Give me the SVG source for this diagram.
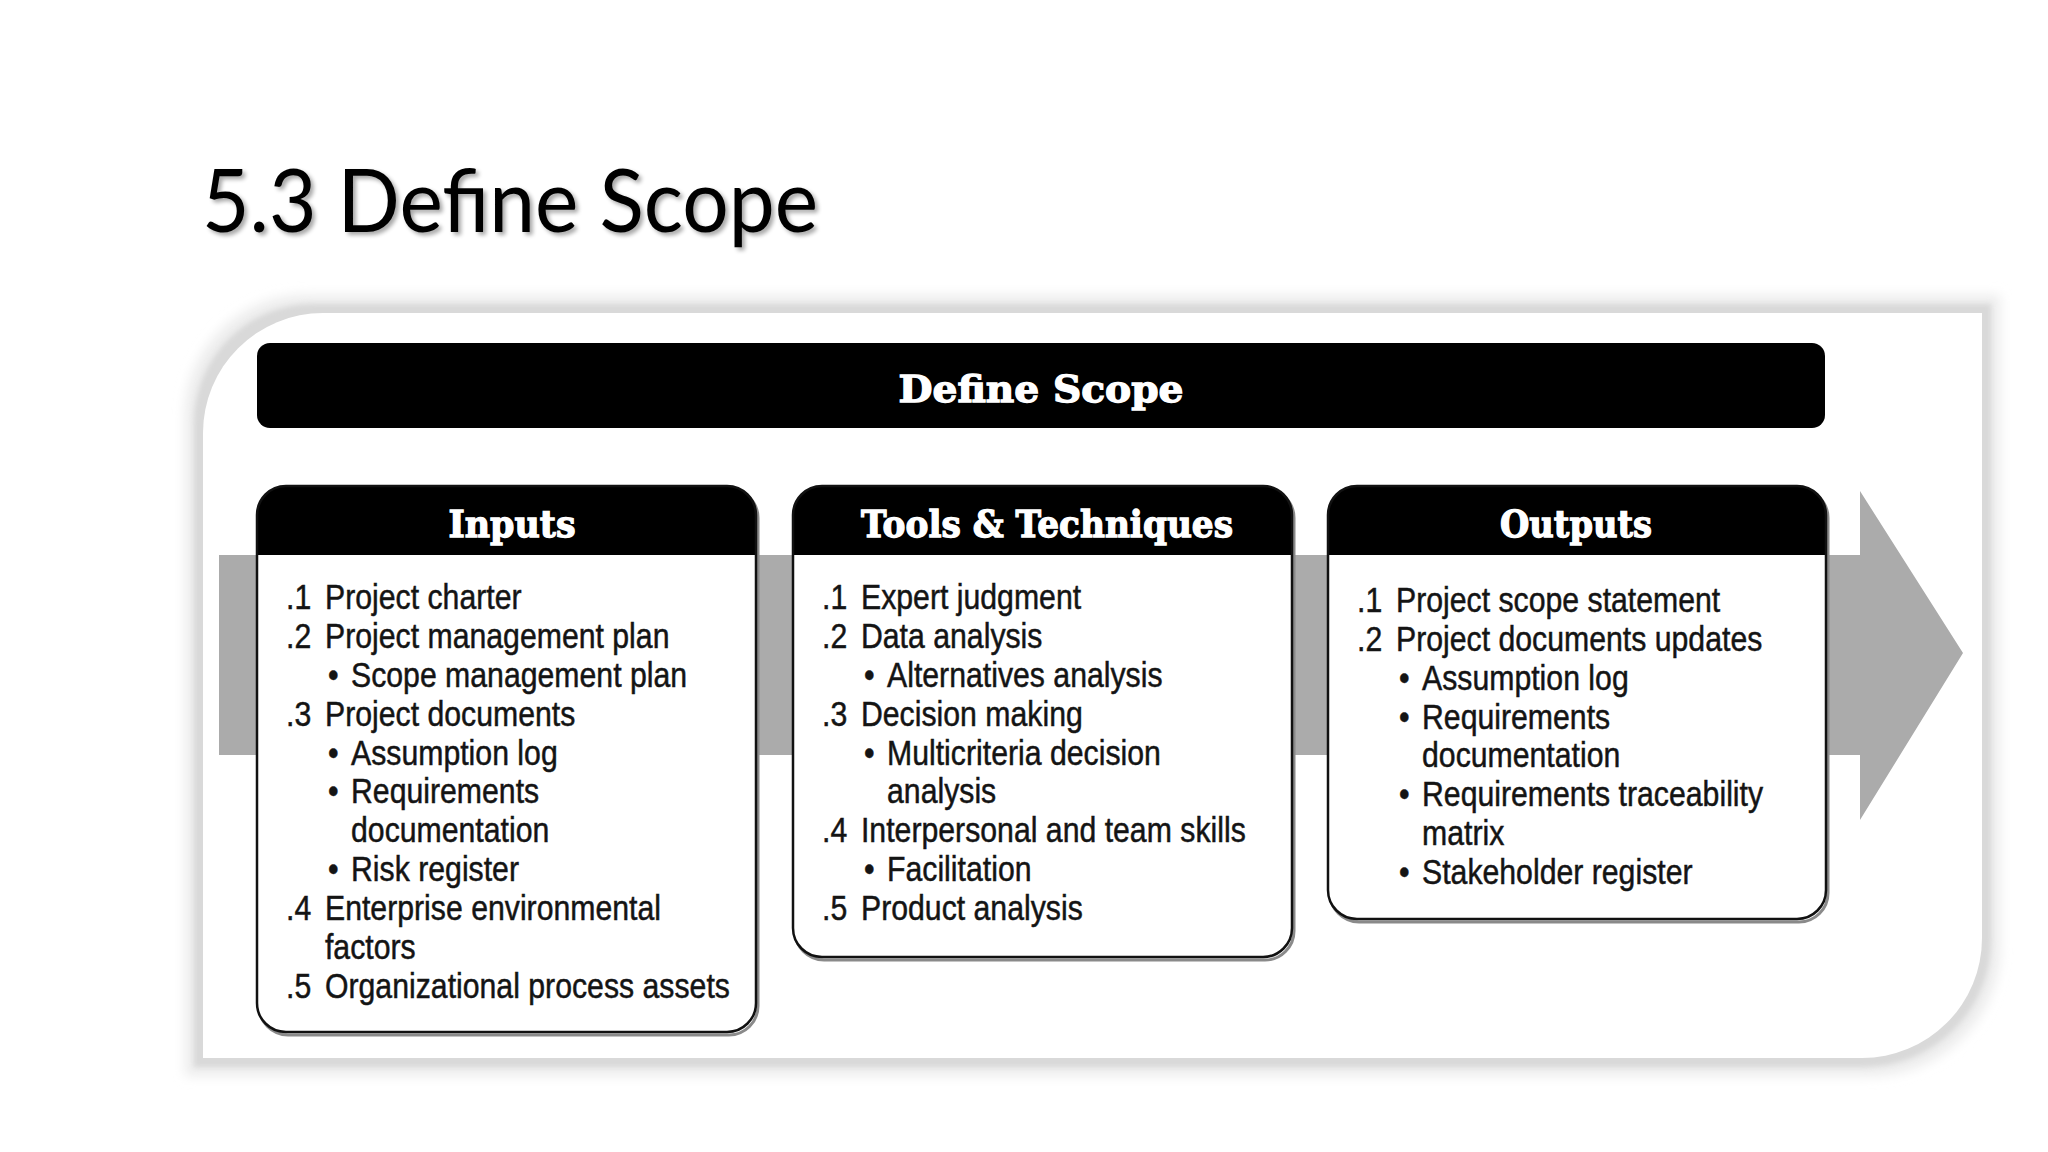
<svg xmlns="http://www.w3.org/2000/svg" width="2048" height="1152" viewBox="0 0 2048 1152">
  <defs>
    <filter id="haloBlur" x="-5%" y="-5%" width="110%" height="110%">
      <feGaussianBlur stdDeviation="6"/>
    </filter>
    <filter id="bandBlur" x="-5%" y="-5%" width="110%" height="110%">
      <feGaussianBlur stdDeviation="2.5"/>
    </filter>
    <filter id="titleShadow" x="-5%" y="-20%" width="110%" height="140%">
      <feGaussianBlur in="SourceAlpha" stdDeviation="2"/>
      <feOffset dx="3" dy="3" result="b"/>
      <feComponentTransfer><feFuncA type="linear" slope="0.35"/></feComponentTransfer>
      <feMerge><feMergeNode/><feMergeNode in="SourceGraphic"/></feMerge>
    </filter>
    <style>
      .title { font-family: Lato, "Open Sans", "Liberation Sans", sans-serif; font-size: 88px; fill: #000; }
      .head { font-family: "DejaVu Serif", "Liberation Serif", serif; font-weight: bold; font-size: 37px; fill: #fff; stroke: #fff; stroke-width: 1.3; text-anchor: middle; }
      .item { font-family: "Liberation Sans", Arial, sans-serif; font-size: 36px; fill: #141414; stroke: #141414; stroke-width: 0.5; }
      .boxline { fill: none; stroke: #111; stroke-width: 2.5; }
      .boxshadow { fill: none; stroke: #8a8a8a; stroke-width: 3; }
    </style>
  </defs>

  <rect x="0" y="0" width="2048" height="1152" fill="#ffffff"/>

  <!-- Title -->
  <text class="title" x="202" y="232" textLength="616" lengthAdjust="spacingAndGlyphs" filter="url(#titleShadow)">5.3 Define Scope</text>

  <!-- Panel -->
  <g id="panel">
    <path d="M306,295 H2000 V946 A130,130 0 0 1 1870,1076 H185 V416 A121,121 0 0 1 306,295 Z" fill="#ececec" filter="url(#haloBlur)"/>
    <path d="M313,304 H1991 V940 A127,127 0 0 1 1864,1067 H194 V423 A119,119 0 0 1 313,304 Z" fill="#d9d9d9" filter="url(#bandBlur)"/>
    <path d="M323,313 H1982 V938 A120,120 0 0 1 1862,1058 H203 V433 A120,120 0 0 1 323,313 Z" fill="#ffffff"/>
  </g>

  <!-- Flow arrow -->
  <g id="connectors">
    <polygon points="219,555 1860,555 1860,491 1963,653 1860,820 1860,755 219,755" fill="#ababab"/>
  </g>

  <!-- Header bar -->
  <g id="node-define-scope">
    <rect x="257" y="343" width="1568" height="85" rx="13" fill="#000"/>
    <text class="head" x="1041" y="402" textLength="285" lengthAdjust="spacingAndGlyphs">Define Scope</text>
  </g>

  <!-- Inputs -->
  <g id="node-inputs">
    <rect class="boxshadow" x="259" y="489" width="499" height="546" rx="29"/>
    <rect x="257" y="486" width="499" height="546" rx="29" fill="#fff"/>
    <path d="M257,555 V515 A29,29 0 0 1 286,486 H727 A29,29 0 0 1 756,515 V555 Z" fill="#000"/>
    <rect class="boxline" x="257" y="486" width="499" height="546" rx="29"/>
    <text class="head" x="512" y="537" textLength="127" lengthAdjust="spacingAndGlyphs">Inputs</text>
    <g class="item" transform="translate(286,0) scale(0.84,1)">
      <text x="0" y="609">.1</text><text x="46.4" y="609">Project charter</text>
      <text x="0" y="648">.2</text><text x="46.4" y="648">Project management plan</text>
      <text x="50" y="687">•</text><text x="77.4" y="687">Scope management plan</text>
      <text x="0" y="726">.3</text><text x="46.4" y="726">Project documents</text>
      <text x="50" y="765">•</text><text x="77.4" y="765">Assumption log</text>
      <text x="50" y="803">•</text><text x="77.4" y="803">Requirements</text>
      <text x="77.4" y="842">documentation</text>
      <text x="50" y="881">•</text><text x="77.4" y="881">Risk register</text>
      <text x="0" y="920">.4</text><text x="46.4" y="920">Enterprise environmental</text>
      <text x="46.4" y="959">factors</text>
      <text x="0" y="998">.5</text><text x="46.4" y="998">Organizational process assets</text>
    </g>
  </g>

  <!-- Tools & Techniques -->
  <g id="node-tools">
    <rect class="boxshadow" x="795" y="489" width="499" height="471" rx="29"/>
    <rect x="793" y="486" width="499" height="471" rx="29" fill="#fff"/>
    <path d="M793,555 V515 A29,29 0 0 1 822,486 H1263 A29,29 0 0 1 1292,515 V555 Z" fill="#000"/>
    <rect class="boxline" x="793" y="486" width="499" height="471" rx="29"/>
    <text class="head" x="1047" y="537" textLength="372" lengthAdjust="spacingAndGlyphs">Tools &amp; Techniques</text>
    <g class="item" transform="translate(822,0) scale(0.84,1)">
      <text x="0" y="609">.1</text><text x="46.4" y="609">Expert judgment</text>
      <text x="0" y="648">.2</text><text x="46.4" y="648">Data analysis</text>
      <text x="50" y="687">•</text><text x="77.4" y="687">Alternatives analysis</text>
      <text x="0" y="726">.3</text><text x="46.4" y="726">Decision making</text>
      <text x="50" y="765">•</text><text x="77.4" y="765">Multicriteria decision</text>
      <text x="77.4" y="803">analysis</text>
      <text x="0" y="842">.4</text><text x="46.4" y="842">Interpersonal and team skills</text>
      <text x="50" y="881">•</text><text x="77.4" y="881">Facilitation</text>
      <text x="0" y="920">.5</text><text x="46.4" y="920">Product analysis</text>
    </g>
  </g>

  <!-- Outputs -->
  <g id="node-outputs">
    <rect class="boxshadow" x="1330" y="489" width="498" height="433" rx="29"/>
    <rect x="1328" y="486" width="498" height="433" rx="29" fill="#fff"/>
    <path d="M1328,555 V515 A29,29 0 0 1 1357,486 H1797 A29,29 0 0 1 1826,515 V555 Z" fill="#000"/>
    <rect class="boxline" x="1328" y="486" width="498" height="433" rx="29"/>
    <text class="head" x="1576" y="537" textLength="152" lengthAdjust="spacingAndGlyphs">Outputs</text>
    <g class="item" transform="translate(1357,0) scale(0.84,1)">
      <text x="0" y="612">.1</text><text x="46.4" y="612">Project scope statement</text>
      <text x="0" y="651">.2</text><text x="46.4" y="651">Project documents updates</text>
      <text x="50" y="690">•</text><text x="77.4" y="690">Assumption log</text>
      <text x="50" y="729">•</text><text x="77.4" y="729">Requirements</text>
      <text x="77.4" y="767">documentation</text>
      <text x="50" y="806">•</text><text x="77.4" y="806">Requirements traceability</text>
      <text x="77.4" y="845">matrix</text>
      <text x="50" y="884">•</text><text x="77.4" y="884">Stakeholder register</text>
    </g>
  </g>
</svg>
